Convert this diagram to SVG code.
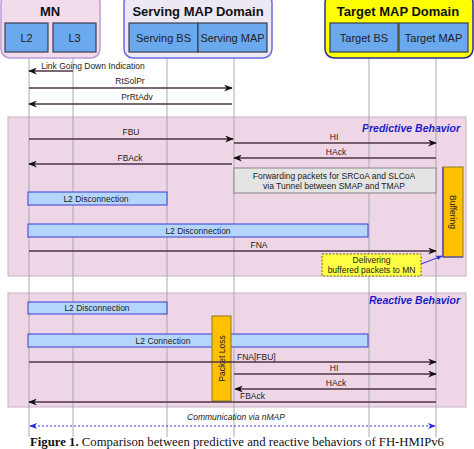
<svg xmlns="http://www.w3.org/2000/svg" width="474" height="449" viewBox="0 0 474 449">
<defs>
<style>
text{font-family:"Liberation Sans",Arial,sans-serif;fill:#222;}
text.cap{font-family:"Liberation Serif","Times New Roman",serif;font-size:13px;fill:#111;}
.t{font-size:8.5px;text-anchor:middle;}
.ttl{font-size:13px;font-weight:bold;text-anchor:middle;fill:#111;}
.bx{font-size:11px;text-anchor:middle;fill:#222;}
.inner{fill:#6aa9ee;stroke:#3c3c4c;stroke-width:1.2;}
.life{stroke:#aaaaaa;stroke-width:1;}
.msgE{stroke:#4d3545;stroke-width:1.4;fill:none;marker-end:url(#ah);}
.panel{fill:#eed6e6;stroke:#c8b2c2;stroke-width:1;}
.bar{fill:#b4d5fc;stroke:#3b3bd0;stroke-width:1;}
.orange{fill:#ffc000;stroke:#8a7a20;stroke-width:1;}
.blue{fill:#1c1ccc;font-style:italic;font-weight:bold;font-size:10.5px;text-anchor:end;}
</style>
<marker id="ah" viewBox="0 0 10 8" refX="9" refY="4" markerWidth="9" markerHeight="7" markerUnits="userSpaceOnUse" orient="auto">
<path d="M0,0 L10,4 L0,8 L3,4 z" fill="#111"/>
</marker>
<marker id="bh" viewBox="0 0 10 8" refX="9" refY="4" markerWidth="8" markerHeight="7" markerUnits="userSpaceOnUse" orient="auto-start-reverse">
<path d="M0,0 L10,4 L0,8 L3,4 z" fill="#2a2ae0"/>
</marker>
<marker id="sh" viewBox="0 0 10 8" refX="9" refY="4" markerWidth="6" markerHeight="5" markerUnits="userSpaceOnUse" orient="auto">
<path d="M0,0 L10,4 L0,8 z" fill="#2a2ae0"/>
</marker>
</defs>

<!-- panels -->
<g id="predictive">
<rect class="panel" x="8" y="117" width="458" height="159"/>
<text class="blue" x="460" y="132">Predictive Behavior</text>
</g>
<g id="reactive">
<rect class="panel" x="8" y="293" width="458" height="114"/>
<text class="blue" x="460" y="304">Reactive Behavior</text>
</g>

<!-- lifelines -->
<g id="lifelines">
<line class="life" x1="29" y1="58" x2="29" y2="437"/>
<line class="life" x1="73" y1="58" x2="73" y2="437"/>
<line class="life" x1="167" y1="58" x2="167" y2="437"/>
<line class="life" x1="234" y1="58" x2="234" y2="437"/>
<line class="life" x1="369" y1="58" x2="369" y2="437"/>
<line class="life" x1="436" y1="58" x2="436" y2="437"/>
</g>

<!-- header nodes -->
<g id="mn">
<rect x="1" y="-6" width="99" height="64" rx="9" fill="#f2dcec" stroke="#b99cdc" stroke-width="1.5"/>
<text class="ttl" x="50" y="16">MN</text>
<g id="mn-l2"><rect class="inner" x="5" y="23" width="43" height="29"/><text class="bx" x="26.5" y="41.5">L2</text></g>
<g id="mn-l3"><rect class="inner" x="53" y="23" width="43" height="29"/><text class="bx" x="74.5" y="41.5">L3</text></g>
</g>
<g id="serving">
<rect x="124" y="-6" width="148" height="64" rx="9" fill="#ece8f4" stroke="#6a6ae6" stroke-width="1.5"/>
<text class="ttl" x="198" y="16">Serving MAP Domain</text>
<g id="serving-bs"><rect class="inner" x="129" y="23" width="69" height="29"/><text class="bx" x="163.5" y="41.5">Serving BS</text></g>
<g id="serving-map"><rect class="inner" x="198" y="23" width="69" height="29"/><text class="bx" x="232.5" y="41.5">Serving MAP</text></g>
</g>
<g id="target">
<rect x="325" y="-6" width="148" height="64" rx="9" fill="#ffff00" stroke="#2a2a9a" stroke-width="1.5"/>
<text class="ttl" x="398" y="16">Target MAP Domain</text>
<g id="target-bs"><rect class="inner" x="330" y="23" width="68" height="29"/><text class="bx" x="364" y="41.5">Target BS</text></g>
<g id="target-map"><rect class="inner" x="399" y="23" width="69" height="29"/><text class="bx" x="433.5" y="41.5">Target MAP</text></g>
</g>

<!-- activity boxes -->
<g id="forwarding">
<rect x="234" y="168" width="202" height="25" fill="#e4e4e4" stroke="#858585" stroke-width="1"/>
<text class="t" x="334" y="178.5" font-size="9">Forwarding  packets for SRCoA and SLCoA</text>
<text class="t" x="334" y="189" font-size="9">via Tunnel between SMAP and TMAP</text>
</g>
<g id="buffering">
<rect class="orange" x="443" y="167" width="20" height="90" stroke="#7a7a7a"/>
<path d="M443,167 V257 H463" stroke="#3a3ad0" stroke-width="1.2" fill="none"/>
<text class="t" transform="translate(450,212) rotate(90)" font-size="10">Buffering</text>
</g>
<g id="l2disc1"><rect class="bar" x="28" y="192" width="139" height="13"/><text class="t" x="96" y="201.5" font-size="9">L2 Disconnection</text></g>
<g id="l2disc2"><rect class="bar" x="28" y="224" width="340" height="13"/><text class="t" x="198" y="233.5" font-size="9">L2 Disconnection</text></g>
<g id="delivering">
<rect x="322" y="254" width="99" height="22" fill="#ffff44" stroke="#7a6a10" stroke-width="1" stroke-dasharray="2,1.5"/>
<text class="t" x="371.5" y="263" font-size="8.5">Delivering</text>
<text class="t" x="371.5" y="273" font-size="8.5">buffered  packets to MN</text>
</g>
<g id="l2disc3"><rect class="bar" x="28" y="302" width="139" height="12"/><text class="t" x="97" y="311" font-size="9">L2 Disconnection</text></g>
<g id="l2conn"><rect class="bar" x="28" y="334" width="340" height="13"/><text class="t" x="163" y="343.5" font-size="9">L2 Connection</text></g>
<g id="packetloss">
<rect class="orange" x="212" y="316" width="19" height="85"/>
<text class="t" transform="translate(225,358.5) rotate(-90)" font-size="10">Packet Loss</text>
</g>

<!-- connectors -->
<g id="connectors">
<line class="msgE" x1="73" y1="71" x2="29" y2="71"/>
<text class="t" x="93" y="69" font-size="8.5">Link  Going  Down Indication</text>
<line class="msgE" x1="29" y1="88" x2="232" y2="88"/>
<text class="t" x="130" y="84">RtSolPr</text>
<line class="msgE" x1="232" y1="104" x2="29" y2="104"/>
<text class="t" x="137" y="100">PrRtAdv</text>

<line class="msgE" x1="29" y1="139" x2="233" y2="139"/>
<text class="t" x="131" y="135">FBU</text>
<line class="msgE" x1="234" y1="143" x2="436" y2="143"/>
<text class="t" x="334" y="140">HI</text>
<line class="msgE" x1="436" y1="158" x2="234" y2="158"/>
<text class="t" x="336" y="155">HAck</text>
<line class="msgE" x1="232" y1="164" x2="29" y2="164"/>
<text class="t" x="130" y="161">FBAck</text>
<line class="msgE" x1="29" y1="251" x2="436" y2="251"/>
<text class="t" x="259" y="248">FNA</text>
<line x1="421" y1="264" x2="442" y2="256" stroke="#2a2ae0" stroke-width="1" marker-end="url(#sh)"/>

<line class="msgE" x1="29" y1="362" x2="436" y2="362"/>
<text x="237" y="360" font-size="8.5">FNA[FBU]</text>
<line class="msgE" x1="234" y1="374" x2="436" y2="374"/>
<text class="t" x="334" y="371">HI</text>
<line class="msgE" x1="436" y1="389" x2="235" y2="389"/>
<text class="t" x="336" y="386">HAck</text>
<line class="msgE" x1="436" y1="402" x2="29" y2="402"/>
<text x="240" y="399" font-size="8.5">FBAck</text>

<line x1="30" y1="426" x2="435" y2="426" stroke="#3a3ae0" stroke-width="1" stroke-dasharray="2,2" marker-start="url(#bh)" marker-end="url(#bh)"/>
<text x="236" y="420" font-size="8.5" text-anchor="middle" font-style="italic" fill="#2a2acc">Communication via nMAP</text>
</g>

<text class="cap" x="30" y="446" textLength="414" lengthAdjust="spacingAndGlyphs"><tspan font-weight="bold">Figure 1.</tspan> Comparison between predictive and reactive behaviors of FH-HMIPv6</text>
</svg>
